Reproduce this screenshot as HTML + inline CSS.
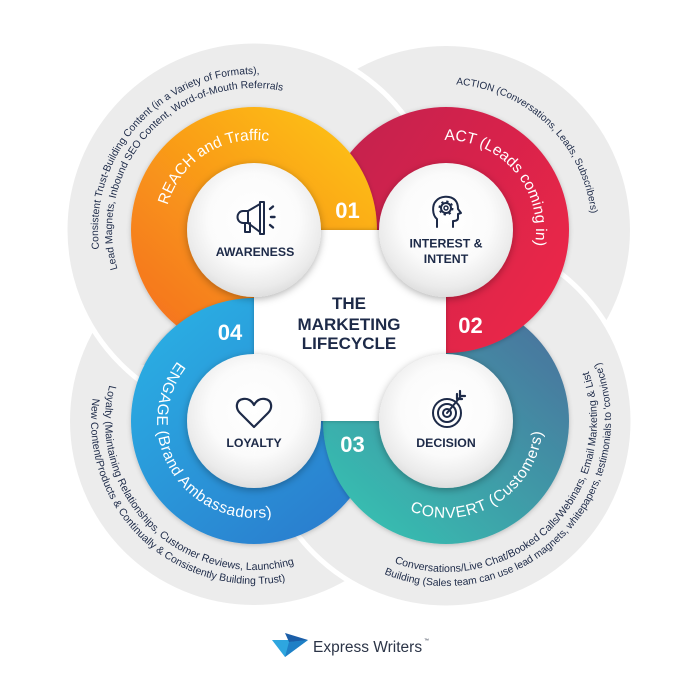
<!DOCTYPE html>
<html><head><meta charset="utf-8"><style>
html,body{margin:0;padding:0;background:#fff;width:700px;height:700px;overflow:hidden}
svg{display:block}
</style></head><body>
<svg width="700" height="700" viewBox="0 0 700 700" xmlns="http://www.w3.org/2000/svg" font-family="'Liberation Sans', Arial, sans-serif">
<defs>
  <linearGradient id="go" x1="0.85" y1="0.1" x2="0.15" y2="0.9">
    <stop offset="0" stop-color="#fdbd12"/><stop offset="1" stop-color="#f57520"/>
  </linearGradient>
  <linearGradient id="gr" x1="0.05" y1="0.05" x2="1" y2="0.7">
    <stop offset="0" stop-color="#c2214f"/><stop offset="1" stop-color="#eb2648"/>
  </linearGradient>
  <linearGradient id="gt" x1="0.95" y1="0.05" x2="0.15" y2="0.95">
    <stop offset="0" stop-color="#4a6f9c"/><stop offset="1" stop-color="#36c0b1"/>
  </linearGradient>
  <linearGradient id="gb" x1="0.15" y1="0.05" x2="0.9" y2="0.95">
    <stop offset="0" stop-color="#29aee3"/><stop offset="1" stop-color="#2c7bcd"/>
  </linearGradient>
  <radialGradient id="wg" cx="0.5" cy="0.42" r="0.62">
    <stop offset="0" stop-color="#ffffff"/>
    <stop offset="0.55" stop-color="#fbfbfb"/>
    <stop offset="0.82" stop-color="#ebebeb"/>
    <stop offset="1" stop-color="#d7d7d7"/>
  </radialGradient>
  <filter id="cs" x="-20%" y="-20%" width="140%" height="140%">
    <feDropShadow dx="0" dy="1" stdDeviation="2.5" flood-color="#000" flood-opacity="0.22"/>
  </filter>
  <filter id="ws" x="-30%" y="-30%" width="160%" height="160%">
    <feDropShadow dx="0" dy="2" stdDeviation="4" flood-color="#000" flood-opacity="0.3"/>
  </filter>
  <filter id="ss" x="-10%" y="-10%" width="120%" height="120%">
    <feDropShadow dx="0" dy="0" stdDeviation="2" flood-color="#000" flood-opacity="0.25"/>
  </filter>
  <clipPath id="cb"><rect x="110" y="285" width="144" height="80"/></clipPath>

  <path id="pO" d="M167.5,205.2 A90,90 0 0 1 299,152.1"/>
  <path id="pR" d="M444.4,140 A90,90 0 0 1 530.6,260.8"/>
  <path id="pB" d="M177.6,361.3 A97,97 0 0 0 302.5,505"/>
  <path id="pT" d="M409.7,510.9 A97,97 0 0 0 541.5,404.2"/>

  <path id="g1" d="M99.2,249 A156,156 0 0 1 307.4,83.4"/>
  <path id="g2" d="M117.5,269.1 A142,142 0 0 1 314,101.3"/>
  <path id="g3" d="M456.2,84.4 A146,146 0 0 1 591.4,242.7"/>
  <path id="g4" d="M109.4,385 A149,149 0 0 0 328.5,550"/>
  <path id="g5" d="M92.6,398.3 A163,163 0 0 0 335.5,562.2"/>
  <path id="g6" d="M394.4,562.9 A151,151 0 0 0 576.8,345.5"/>
  <path id="g7" d="M384.2,574 A165,165 0 0 0 588.9,338.5"/>
</defs>

<rect width="700" height="700" fill="#fff"/>

<!-- gray outer disks -->
<circle cx="446" cy="230" r="184" fill="#ececec"/>
<circle cx="254" cy="421" r="184" fill="#ececec"/>
<circle cx="254" cy="230" r="189" fill="#ececec" stroke="#fff" stroke-width="5"/>
<circle cx="446" cy="421" r="187" fill="#ececec" stroke="#fff" stroke-width="5"/>

<!-- colored rings -->
<circle cx="254" cy="421" r="123" fill="url(#gb)" filter="url(#cs)"/>
<circle cx="446" cy="421" r="123" fill="url(#gt)" filter="url(#cs)"/>
<circle cx="446" cy="230" r="123" fill="url(#gr)" filter="url(#cs)"/>
<circle cx="254" cy="230" r="123" fill="url(#go)" filter="url(#cs)"/>
<g clip-path="url(#cb)"><circle cx="254" cy="421" r="123" fill="url(#gb)" filter="url(#cs)"/></g>

<!-- center square -->
<rect x="254" y="230" width="192" height="191" fill="#fff" filter="url(#ss)"/>

<!-- white circles -->
<circle cx="254" cy="230" r="67" fill="url(#wg)" filter="url(#ws)"/>
<circle cx="446" cy="230" r="67" fill="url(#wg)" filter="url(#ws)"/>
<circle cx="254" cy="421" r="67" fill="url(#wg)" filter="url(#ws)"/>
<circle cx="446" cy="421" r="67" fill="url(#wg)" filter="url(#ws)"/>

<!-- ring texts -->
<g fill="#fff" font-size="15.5">
  <text><textPath href="#pO">REACH and Traffic</textPath></text>
  <text><textPath href="#pR">ACT (Leads coming in)</textPath></text>
  <text letter-spacing="0.55"><textPath href="#pB">ENGAGE (Brand Ambassadors)</textPath></text>
  <text letter-spacing="0.75"><textPath href="#pT">CONVERT (Customers)</textPath></text>
</g>

<!-- numbers -->
<g fill="#fff" font-size="22" font-weight="bold" text-anchor="middle">
  <text x="347.5" y="218">01</text>
  <text x="470.5" y="333">02</text>
  <text x="352.5" y="452">03</text>
  <text x="230" y="340">04</text>
</g>

<!-- gray texts -->
<g fill="#1d2a48">
  <text font-size="10.3"><textPath href="#g1">Consistent Trust-Building Content (in a Variety of Formats),</textPath></text>
  <text font-size="10.3"><textPath href="#g2">Lead Magnets, Inbound SEO Content, Word-of-Mouth Referrals</textPath></text>
  <text font-size="10.0"><textPath href="#g3">ACTION (Conversations, Leads, Subscribers)</textPath></text>
  <text font-size="10.6"><textPath href="#g4">Loyalty (Maintaining Relationships, Customer Reviews, Launching</textPath></text>
  <text font-size="10.5"><textPath href="#g5">New Content/Products &amp; Continually &amp; Consistently Building Trust)</textPath></text>
  <text font-size="10.6"><textPath href="#g6">Conversations/Live Chat/Booked Calls/Webinars, Email Marketing &amp; List</textPath></text>
  <text font-size="10.3"><textPath href="#g7">Building (Sales team can use lead magnets, whitepapers, testimonials to 'convince')</textPath></text>
</g>

<!-- center title -->
<g fill="#1d2a48" font-size="17" font-weight="bold" text-anchor="middle">
  <text x="349" y="309">THE</text>
  <text x="349" y="330">MARKETING</text>
  <text x="349" y="349">LIFECYCLE</text>
</g>

<!-- circle labels -->
<g fill="#1d2a48" font-size="12.3" font-weight="bold" text-anchor="middle">
  <text x="255" y="256">AWARENESS</text>
  <text x="446" y="247.5">INTEREST &amp;</text>
  <text x="446" y="263">INTENT</text>
  <text x="254" y="447">LOYALTY</text>
  <text x="446" y="447">DECISION</text>
</g>

<!-- icons -->
<g fill="none" stroke="#1d2a48" stroke-width="2" stroke-linejoin="round" stroke-linecap="round">
  <!-- megaphone -->
  <path d="M248,211 H243 A5.5,6 0 0 0 243,223 H248 Z"/>
  <path d="M248,211 L260,204 V232 L248,223 Z"/>
  <rect x="260" y="202" width="4" height="32"/>
  <path d="M245,223 V232 H250 V223"/>
  <path d="M270,209 L273,206.5" stroke-width="2.4"/>
  <path d="M271,217 H274.5" stroke-width="2.4"/>
  <path d="M270,225 L273,227.5" stroke-width="2.4"/>
  <!-- head -->
  <path d="M437,227 V219 C432,215 432,205 436,201 C440,196 450,195 455,200 C458,203 458,207 458,209 L461,213 L458,214 V218 C458,220 456,221 453,221 V227"/>
  <circle cx="446" cy="208" r="5"/>
  <circle cx="446" cy="208" r="2" stroke-width="1.5"/>
  <circle cx="446" cy="208" r="6.3" stroke-width="2.4" stroke-dasharray="2.2 2.75" stroke-linecap="butt"/>
  <!-- heart -->
  <path d="M254,427 L240,413 C235,408 236,400 243,399 C248,398 252,401 254,405 C256,401 260,398 265,399 C272,400 273,408 268,413 Z" stroke-width="2.2"/>
  <!-- target -->
  <circle cx="447" cy="413" r="14"/>
  <circle cx="447" cy="413" r="9"/>
  <circle cx="447" cy="413" r="4"/>
  <path d="M447,413 L461,396"/>
  <path d="M457,394 L457,399 L462,399 M460,391 L460,396 L465,396" stroke-width="2.2"/>
</g>

<!-- logo -->
<g>
  <polygon points="272,640 308,640 285,657" fill="#2ea6df"/>
  <polygon points="289,642 308,640 285,657" fill="#1f80c6"/>
  <polygon points="285,633 308,640 289,642" fill="#1b5ea8"/>
  <text x="313" y="652" font-size="15.5" fill="#2b3447">Express Writers</text>
  <text x="424" y="642" font-size="5" fill="#2b3447">™</text>
</g>
</svg>
</body></html>
